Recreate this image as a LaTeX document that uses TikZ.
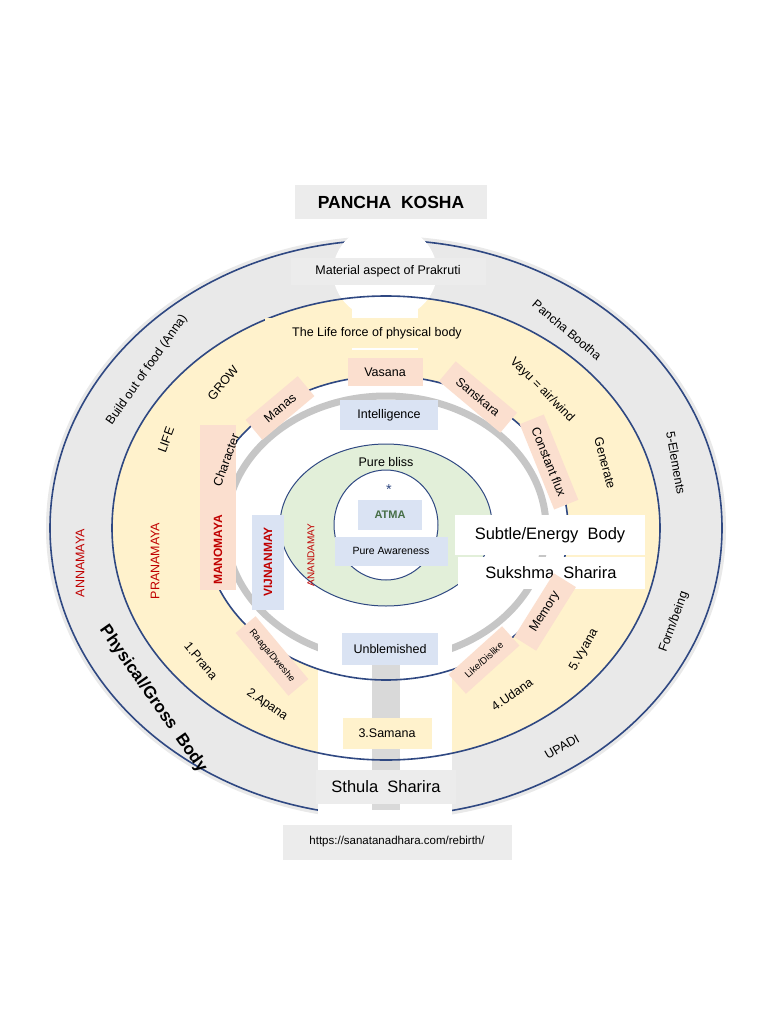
\documentclass[tikz,border=0pt]{standalone}
\usepackage{fontspec}
\setmainfont{Liberation Sans}
\definecolor{kred}{RGB}{192,0,0}
\definecolor{kpink}{RGB}{251,223,207}
\definecolor{kblue}{RGB}{218,227,243}
\definecolor{kyel}{RGB}{255,242,204}
\definecolor{kgrey}{RGB}{236,236,236}
\definecolor{kring}{RGB}{233,233,233}
\definecolor{knavy}{RGB}{47,72,130}
\definecolor{kgreen}{RGB}{226,239,217}
\definecolor{katma}{RGB}{70,110,70}
\begin{document}
\begin{tikzpicture}[x=1pt,y=-1pt,
  lbl/.style={font=\fontsize{12.5}{14}\selectfont,inner sep=1pt},
  red/.style={lbl,text=kred},
  pinkbox/.style={lbl,fill=kpink,minimum height=26},
  bluebox/.style={lbl,fill=kblue,minimum height=28},
  yelbox/.style={lbl,fill=kyel,minimum height=28},
  greybox/.style={lbl,fill=kgrey},
  ring/.style={draw=knavy,line width=1.6pt}]
\useasboundingbox (0,0) rectangle (768,1024);
\fill[white] (0,0) rectangle (768,1024);
% rings
\fill[kring] (386,528) ellipse [x radius=340,y radius=292];
\draw[ring] (386,528) ellipse [x radius=336,y radius=288];
\fill[kyel] (386,528) ellipse [x radius=274,y radius=232];
\fill[white] (386,528) ellipse [x radius=182,y radius=152];
\draw[gray!45,line width=7pt] (386,528) ellipse [x radius=160,y radius=132];
% silhouette
\fill[white] (385,272) ellipse [x radius=52,y radius=48];
\fill[white] (352,300) rectangle (418,350);
\fill[white] (325,430) rectangle (445,600);
\fill[white] (318,600) rectangle (452,822);
\fill[gray!30] (372,650) rectangle (400,810);
\draw[ring] (386,528) ellipse [x radius=274,y radius=232];
\draw[ring] (386,528) ellipse [x radius=182,y radius=152];
\fill[kgreen] (386,525) ellipse [x radius=106,y radius=81];
\draw[ring,line width=1pt] (386,525) ellipse [x radius=106,y radius=81];
\fill[white] (386,525) ellipse [x radius=52,y radius=55];
\draw[ring,line width=1pt] (386,525) ellipse [x radius=52,y radius=55];
% boxes top
\node[greybox,minimum width=192,minimum height=34,font=\bfseries\fontsize{17.5}{19}\selectfont] (title) at (391,202) {PANCHA\ \ KOSHA};
\node[greybox,minimum width=195,minimum height=27] (mat) at (388,271) {Material aspect of Prakruti};
\node[yelbox,minimum width=225,minimum height=30] (life) at (377,333) {The Life force of physical body};
\node[pinkbox,minimum width=75,minimum height=28] (vas) at (385,372) {Vasana};
\node[bluebox,minimum width=98,minimum height=30] (int) at (389,415) {Intelligence};
\node[lbl] (bliss) at (386,462) {Pure bliss};
\node[text=knavy,font=\Large] (star) at (389,490) {*};
\node[bluebox,minimum width=64,minimum height=30,font=\bfseries\fontsize{11}{12}\selectfont\rmfamily,text=katma] (atma) at (390,515) {ATMA};
\node[bluebox,minimum width=113,minimum height=29,font=\fontsize{10.5}{12}\selectfont] (aw) at (391,551) {Pure Awareness};
\node[fill=white,minimum width=190,minimum height=40,font=\fontsize{16.5}{18}\selectfont] (sub) at (550,535) {Subtle/Energy\ \ Body};
\node[fill=white,minimum width=187,minimum height=32,font=\fontsize{16.5}{18}\selectfont] (suk) at (551,573) {Sukshma\ \ Sharira};
\node[bluebox,minimum width=96,minimum height=32] (unb) at (390,649) {Unblemished};
\node[yelbox,minimum width=89,minimum height=31] (sam) at (387,733) {3.Samana};
\node[greybox,minimum width=140,minimum height=34,font=\fontsize{16.5}{18}\selectfont] (sth) at (386,787) {Sthula\ \ Sharira};
\node[greybox,minimum width=229,minimum height=35,font=\fontsize{11.5}{13}\selectfont] (url) at (397,842) {https://sanatanadhara.com/rebirth/};
% side columns
\fill[kpink] (200,425) rectangle (236,590);
\fill[kblue] (252,515) rectangle (284,610);
\node[red,rotate=90,font=\bfseries\fontsize{12}{14}\selectfont] (mano) at (218,550) {MANOMAYA};
\node[red,rotate=90,font=\bfseries\fontsize{12}{14}\selectfont] (vij) at (268,562) {VIJNANMAY};
\node[red,rotate=90,font=\fontsize{10}{12}\selectfont] (anan) at (311,555) {ANANDAMAY};
\node[red,rotate=90] (prana) at (155,561) {PRANAMAYA};
\node[red,rotate=90] (anna) at (80,563) {ANNAMAYA};
\node[lbl,rotate=70] (char) at (226,460) {Character};
\node[pinkbox,rotate=40,minimum width=68] (manas) at (280,408) {Manas};
\node[pinkbox,rotate=-40,minimum width=80] (sans) at (478,397) {Sanskara};
\node[lbl,rotate=70] (lifet) at (166,440) {LIFE};
\node[lbl,rotate=50] (grow) at (223,383) {GROW};
\node[lbl,rotate=55] (build) at (147,370) {Build out of food (Anna)};
\node[lbl,rotate=-40] (pb) at (567,330) {Pancha Bootha};
\node[yelbox,rotate=-45,minimum width=110,minimum height=22] (vayu) at (542,390) {Vayu = air/wind};
\node[lbl,rotate=-75] (gen) at (605,463) {Generate};
\node[lbl,rotate=-80] (five) at (676,463) {5-Elements};
\node[pinkbox,rotate=-68,minimum width=92] (cf) at (549,462) {Constant flux};
\node[lbl,rotate=70] (form) at (674,622) {Form/being};
\node[pinkbox,rotate=58,minimum width=75] (mem) at (545,612) {Memory};
\node[pinkbox,rotate=42,minimum width=72,font=\fontsize{9.5}{11}\selectfont] (like) at (484,660) {Like/Dislike};
\node[lbl,rotate=60] (vy) at (584,650) {5.Vyana};
\node[yelbox,rotate=35,minimum width=70,minimum height=24] (ud) at (512,694) {4.Udana};
\node[lbl,rotate=30] (up) at (562,747) {UPADI};
\node[lbl,rotate=-50] (p1) at (201,661) {1.Prana};
\node[yelbox,rotate=-35,minimum width=70,minimum height=24] (p2) at (267,705) {2.Apana};
\node[pinkbox,rotate=-50,minimum width=82,font=\fontsize{9.5}{11}\selectfont] (rd) at (272,656) {Raaga/Dweshe};
\node[rotate=-55,font=\bfseries\fontsize{17}{19}\selectfont] (phys) at (153,699) {Physical/Gross\ \ Body};
\end{tikzpicture}
\end{document}
